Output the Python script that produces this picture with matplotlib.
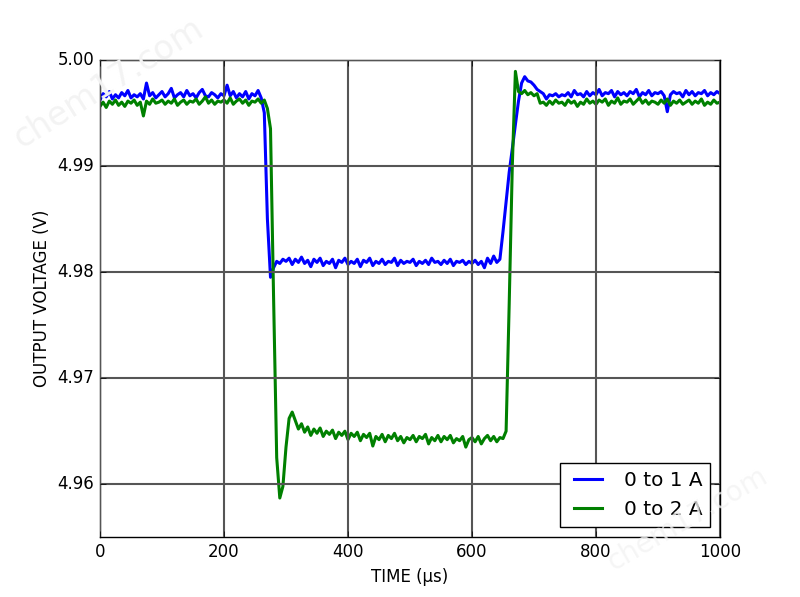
import numpy as np
import matplotlib
matplotlib.use("Agg")
import matplotlib.pyplot as plt
from matplotlib.ticker import FormatStrFormatter

# output voltage in mV, sampled every 5 us from 0 to 1000 us
v_1a_mv = [
    4996.2, 4996.8, 4996.5, 4997.0, 4996.3, 4996.7, 4996.4, 4996.9, 4996.6, 4997.1,
    4996.4, 4996.7, 4996.5, 4996.8, 4996.3, 4997.8, 4996.6, 4996.9, 4996.4, 4996.7,
    4997.0, 4996.5, 4996.8, 4997.3, 4996.4, 4996.7, 4996.9, 4996.5, 4997.1, 4996.6,
    4996.8, 4996.4, 4996.9, 4997.2, 4996.6, 4996.5, 4996.9, 4996.7, 4996.4, 4996.8,
    4996.6, 4997.6, 4996.6, 4997.0, 4996.4, 4996.8, 4996.5, 4997.0, 4996.3, 4996.8,
    4996.6, 4997.1, 4996.4, 4995.0, 4985.0, 4979.5, 4980.4, 4981.0, 4980.8, 4981.2,
    4981.0, 4981.3, 4980.7, 4981.2, 4980.9, 4981.4, 4980.8, 4981.1, 4980.5, 4981.2,
    4980.9, 4981.3, 4980.6, 4981.0, 4980.8, 4981.2, 4980.4, 4981.1, 4980.9, 4981.3,
    4980.7, 4981.0, 4980.8, 4981.2, 4980.5, 4981.1, 4980.9, 4981.3, 4980.6, 4981.0,
    4980.8, 4981.2, 4980.7, 4981.0, 4980.9, 4981.3, 4980.6, 4981.1, 4980.8, 4981.0,
    4980.9, 4981.2, 4980.6, 4981.0, 4980.8, 4981.1, 4980.7, 4981.3, 4980.9, 4981.0,
    4980.7, 4981.1, 4980.8, 4981.2, 4980.6, 4981.0, 4980.9, 4981.1, 4980.7, 4981.0,
    4980.8, 4981.1, 4980.7, 4981.0, 4980.4, 4981.3, 4980.8, 4981.5, 4980.9, 4981.2,
    4983.8, 4986.6, 4989.4, 4991.6, 4993.9, 4996.1, 4997.8, 4998.4, 4998.0, 4997.9,
    4997.6, 4997.2, 4997.0, 4996.8, 4996.3, 4996.7, 4996.6, 4996.8, 4996.5, 4996.7,
    4996.6, 4996.9, 4996.5, 4997.1, 4996.7, 4996.8, 4996.5, 4997.0, 4996.6, 4996.9,
    4996.7, 4997.2, 4996.6, 4996.9, 4996.8, 4997.1, 4996.5, 4997.0, 4996.7, 4996.9,
    4996.6, 4997.0, 4996.8, 4997.2, 4996.5, 4996.9, 4996.7, 4997.1, 4996.6, 4996.9,
    4996.8, 4997.0, 4996.6, 4995.1, 4996.7, 4997.0, 4996.8, 4996.9, 4996.5, 4997.1,
    4996.7, 4997.0, 4996.6, 4996.9, 4996.8, 4997.1, 4996.6, 4996.9, 4996.7, 4997.0,
    4996.8,
]

v_2a_mv = [
    4995.6, 4996.0, 4995.5, 4996.1, 4995.8, 4996.2, 4995.7, 4996.0, 4995.6, 4996.1,
    4995.9, 4996.2, 4995.7, 4996.0, 4994.7, 4996.1, 4995.8, 4996.3, 4995.9, 4996.0,
    4996.2, 4995.8, 4996.1, 4995.9, 4996.3, 4995.7, 4996.0, 4996.2, 4995.8, 4996.1,
    4996.0, 4996.3, 4995.8, 4996.1, 4996.5, 4995.9, 4996.2, 4995.8, 4996.1, 4996.0,
    4996.2, 4995.9, 4996.4, 4995.8, 4996.1, 4996.3, 4995.9, 4996.2, 4995.7, 4996.1,
    4996.0, 4996.3, 4995.9, 4996.2, 4995.4, 4993.5, 4977.5, 4962.5, 4958.7, 4959.8,
    4963.5, 4966.2, 4966.8, 4966.0, 4965.2, 4965.7, 4964.9, 4965.4, 4964.6, 4965.2,
    4964.8, 4965.3, 4964.5, 4965.0, 4964.7, 4965.1, 4964.3, 4964.9, 4964.6, 4965.0,
    4964.2, 4964.8, 4964.5, 4964.9, 4964.1, 4964.7, 4964.4, 4964.8, 4963.6, 4964.5,
    4964.2, 4964.7, 4964.0, 4964.6, 4964.3, 4964.8, 4964.1, 4964.5, 4963.9, 4964.4,
    4964.2, 4964.6, 4964.0, 4964.5, 4964.3, 4964.7, 4963.8, 4964.4, 4964.1, 4964.6,
    4964.0, 4964.5, 4964.2, 4964.6, 4963.9, 4964.3, 4964.1, 4964.5, 4963.5, 4964.2,
    4964.4, 4964.0, 4964.5, 4963.8, 4964.3, 4964.6, 4964.1, 4964.5, 4964.0, 4964.4,
    4964.3, 4965.0, 4977.0, 4990.0, 4998.9, 4997.0, 4996.8, 4997.1, 4996.7, 4996.9,
    4996.6, 4996.8, 4995.9, 4996.0, 4995.7, 4996.1, 4995.8, 4996.2, 4995.9, 4996.0,
    4995.7, 4996.2, 4995.9, 4996.1, 4995.6, 4996.0, 4995.8, 4996.3, 4995.9, 4996.1,
    4995.8, 4996.2, 4996.0, 4996.3, 4995.7, 4996.1, 4995.9, 4996.4, 4995.8, 4996.1,
    4996.0, 4996.3, 4995.8, 4996.1, 4996.4, 4995.9, 4996.2, 4995.8, 4996.1, 4996.0,
    4995.8, 4996.2, 4995.9, 4996.3, 4995.7, 4996.1, 4995.9, 4996.2, 4995.8, 4996.0,
    4996.2, 4995.8, 4996.1, 4995.9, 4996.3, 4995.7, 4996.0, 4995.8, 4996.2, 4995.9,
    4996.0,
]

labels = ["0 to 1 A", "0 to 2 A"]
x_ticks = [0, 200, 400, 600, 800, 1000]
y_ticks = [4.96, 4.97, 4.98, 4.99, 5.00]

t_us = np.linspace(0, 1000, len(v_1a_mv))
v_1a = np.array(v_1a_mv) / 1000.0
v_2a = np.array(v_2a_mv) / 1000.0

plt.style.use("classic")
fig = plt.figure(figsize=(8, 5.97), dpi=100, facecolor="white")
ax = fig.add_subplot(111)

ax.plot(t_us, v_1a, color="b", linewidth=2.2, label=labels[0])
ax.plot(t_us, v_2a, color="g", linewidth=2.2, label=labels[1])

ax.set_xlim(0, 1000)
ax.set_ylim(4.955, 5.00)
ax.set_xticks(x_ticks)
ax.set_yticks(y_ticks)
ax.yaxis.set_major_formatter(FormatStrFormatter("%.2f"))
ax.grid(True, color="#555555", linestyle="-", linewidth=1.5)

ax.set_xlabel("TIME (µs)")
ax.set_ylabel("OUTPUT VOLTAGE (V)")
leg = ax.legend(loc="lower right")

# faint site watermark
fig.text(0.135, 0.86, "chem17.com", rotation=32, fontsize=24, color="#f3f3f3",
         ha="center", va="center", zorder=0)
fig.text(0.86, 0.13, "chem17.com", rotation=30, fontsize=20, color="#f3f3f3",
         alpha=0.8, ha="center", va="center", zorder=10)

fig.savefig("out.png", dpi=100, facecolor="white")
